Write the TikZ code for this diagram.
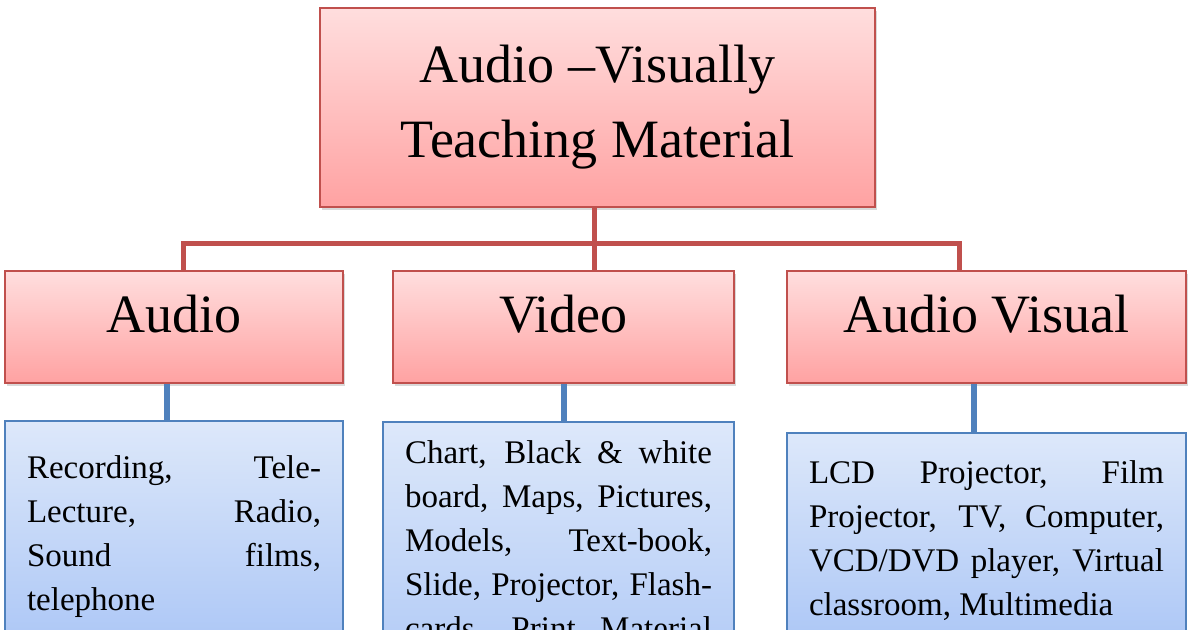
\documentclass[tikz,border=0pt]{standalone}
\usepackage{fontspec}
\setmainfont{Liberation Serif}
\usetikzlibrary{shadows}
\setlength{\parindent}{0pt}
\tolerance=10000
\hbadness=10000

\definecolor{boxred}{HTML}{C0504D}
\definecolor{boxblue}{HTML}{4F81BD}
\definecolor{redtop}{HTML}{FFDEDE}
\definecolor{redbottom}{HTML}{FFA2A2}
\definecolor{bluetop}{HTML}{DDE8FA}
\definecolor{bluebottom}{HTML}{ABC6F6}

\tikzset{
  headbox/.style={draw=boxred, line width=1pt, top color=redtop, bottom color=redbottom,
    drop shadow={opacity=0.3, shadow xshift=1pt, shadow yshift=-1.5pt},
    inner sep=0pt, align=center, font=\fontsize{27}{37.5}\selectfont},
  grouplabel/.style={headbox, minimum height=56pt, text height=18.5pt, text depth=12.5pt},
  itembox/.style={draw=boxblue, line width=0.8pt, top color=bluetop, bottom color=bluebottom,
    anchor=north, inner xsep=11pt, align=justify, font=\fontsize{16.5}{22}\selectfont},
  redlink/.style={draw=boxred, line width=2.5pt},
  bluelink/.style={draw=boxblue, line width=3pt}
}

\begin{document}
\begin{tikzpicture}[x=0.5pt, y=-0.5pt]
        \useasboundingbox (0,0) rectangle (1200,630);
        \clip (0,0) rectangle (1200,630);

        \node[headbox, minimum width=277.5pt, minimum height=99.5pt] (top) at (597.5,107.5) {Audio --Visually\\Teaching Material};

        \node[grouplabel, minimum width=169pt] (audio) at (174,327) {Audio};
        \node[grouplabel, minimum width=170.5pt] (video) at (563.5,327) {Video};
        \node[grouplabel, minimum width=199.5pt] (av) at (986.5,327) {Audio Visual};

        \node[itembox, text width=147pt, inner ysep=17.25pt] (audioitems) at (174,420)
          {Recording, Tele-\linebreak Lecture, Radio,\linebreak Sound films,\linebreak telephone};
        \node[itembox, text width=153.5pt, inner ysep=9.25pt] (videoitems) at (558.5,421)
          {Chart, Black \& white\linebreak board, Maps, Pictures,\linebreak Models, Text-book,\linebreak Slide, Projector, Flash-\linebreak cards, Print Material\linebreak\mbox{}};
        \node[itembox, text width=177.5pt, inner ysep=13.75pt] (avitems) at (986.5,432)
          {LCD Projector, Film\linebreak Projector, TV, Computer,\linebreak VCD/DVD player, Virtual\linebreak classroom, Multimedia};

        \coordinate (hub) at (594,244);
        \coordinate (lcorner) at (183,244);
        \coordinate (rcorner) at (959,244);
        \draw[redlink] (top.south -| hub) -- (hub);
        \draw[redlink] (audio.north -| lcorner) -- (lcorner) -- (rcorner) -- (av.north -| rcorner);
        \draw[redlink] (hub) -- (video.north -| hub);

        \draw[bluelink] ([xshift=-3.5pt]audio.south) -- ([xshift=-3.5pt]audio.south |- audioitems.north);
        \draw[bluelink] (video.south) -- (video.south |- videoitems.north);
        \draw[bluelink] ([xshift=-6.25pt]av.south) -- ([xshift=-6.25pt]av.south |- avitems.north);
\end{tikzpicture}
\end{document}
